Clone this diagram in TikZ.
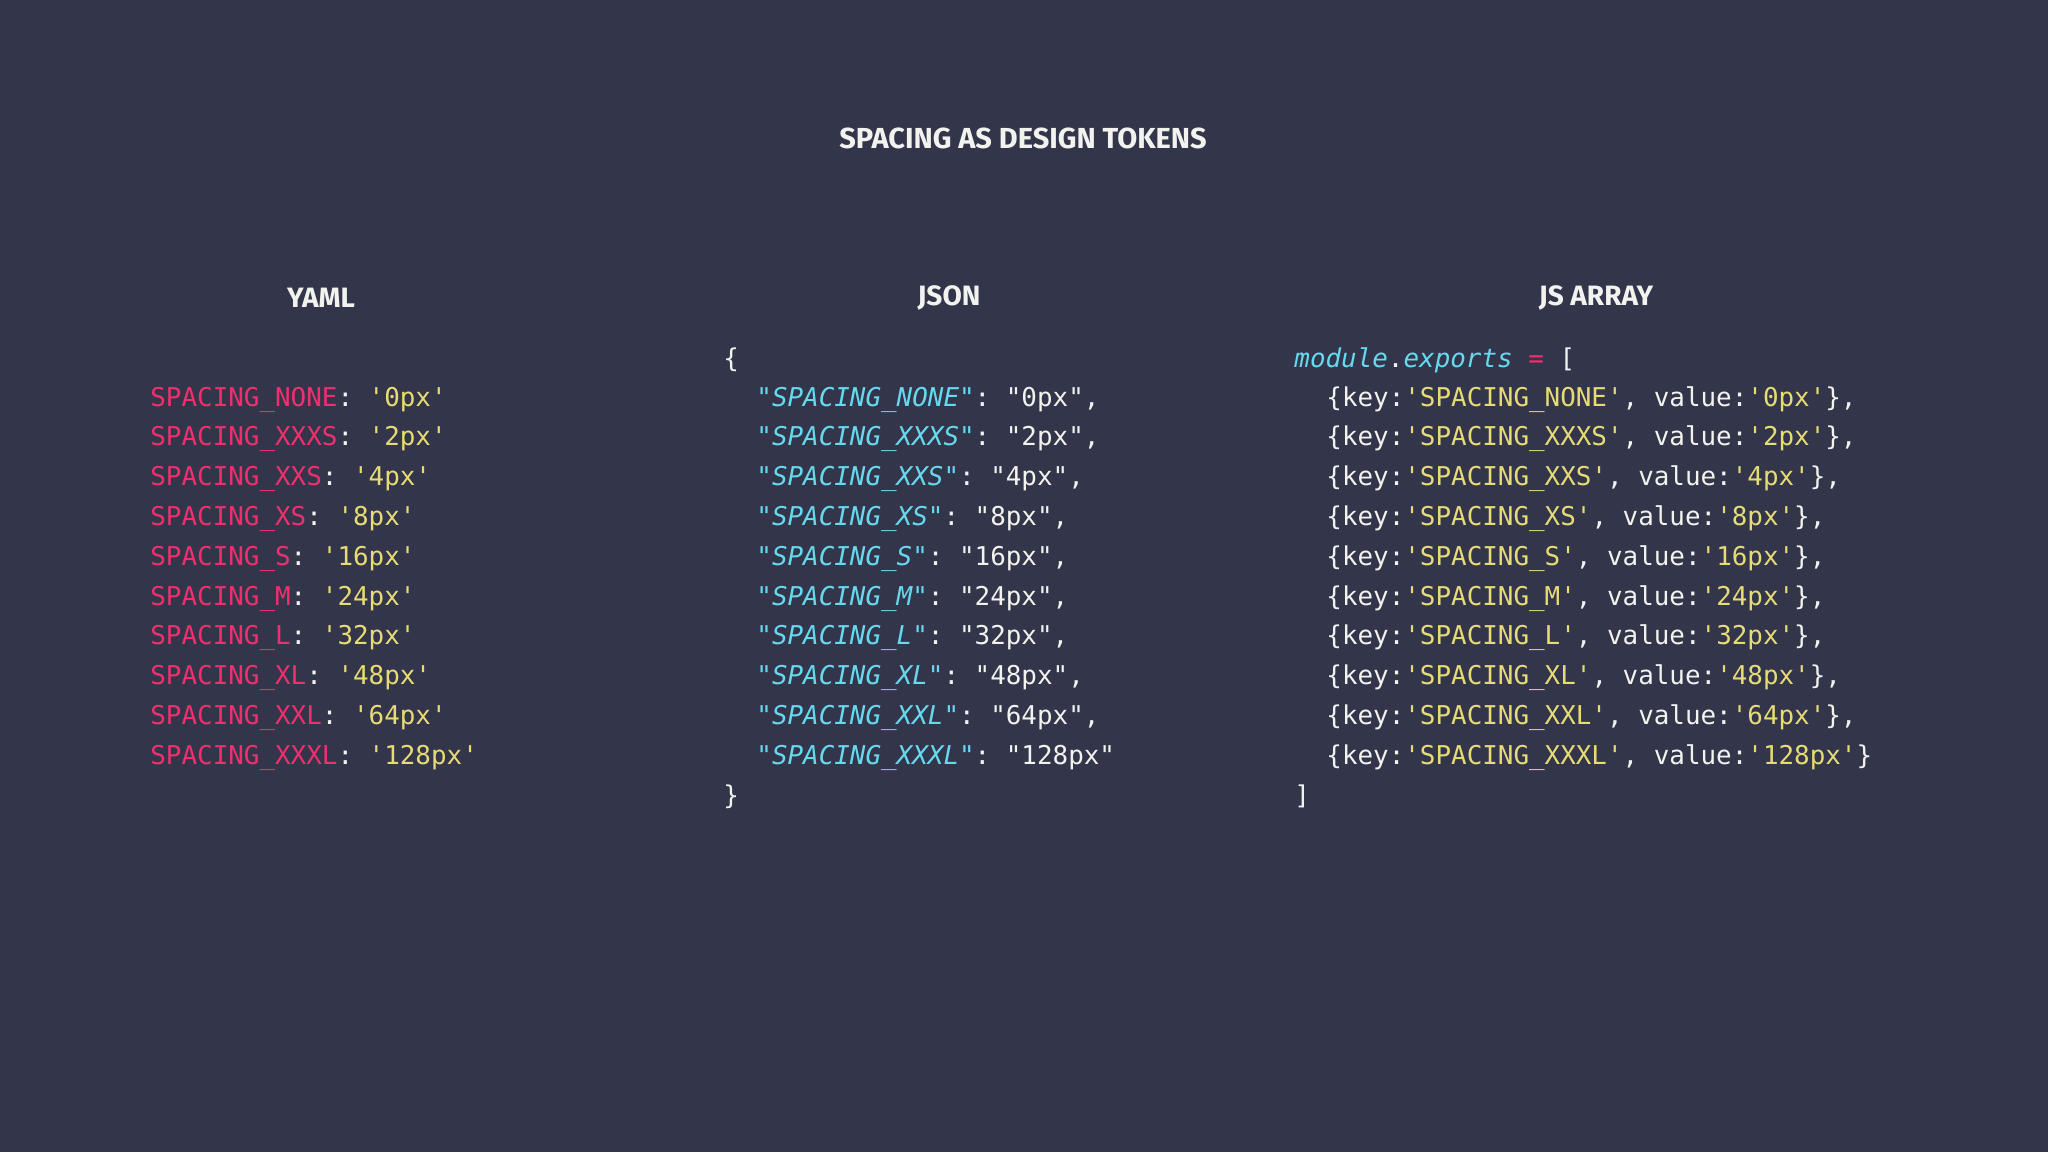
\documentclass[tikz,border=0pt]{standalone}
\usepackage{fontspec}
\setmainfont{Fira Sans}
\setmonofont{DejaVu Sans Mono}
\definecolor{bg}{HTML}{33354A}
\definecolor{pk}{HTML}{F0306E}
\definecolor{yl}{HTML}{E6DB74}
\definecolor{cy}{HTML}{66D9EF}
\definecolor{wt}{HTML}{F2F2EE}
\tikzset{
  code/.style={anchor=west,inner sep=0pt,text height=9pt,text depth=3pt,font=\ttfamily\fontsize{12.95}{14}\selectfont,text=wt},
  head/.style={inner sep=0pt,font=\bfseries\fontsize{14}{16}\selectfont,text=wt},
  ttl/.style={inner sep=0pt,font=\bfseries\fontsize{14.5}{17}\selectfont,text=wt}
}
\newcommand{\ck}[1]{\textcolor{cy}{\itshape #1}}
\begin{document}
\begin{tikzpicture}[x=0.5pt,y=-0.5pt]
\fill[bg] (0,0) rectangle (2048,1152);
\useasboundingbox (0,0) rectangle (2048,1152);
\node[ttl] (title) at (1023,138) {SPACING AS DESIGN TOKENS};
\node[head] (hyaml) at (321,298) {YAML};
\node[head] (hjson) at (949,298) {JSON};
\node[head] (hjs) at (1596,298) {JS ARRAY};
\node[code] (jopen) at (723,361) {\{};
\node[code] (jsopen) at (1294,361) {\ck{module}.\ck{exports}\textcolor{pk}{\ =\ }[};
\foreach \k/\v [count=\i] in {NONE/0px,XXXS/2px,XXS/4px,XS/8px,S/16px,M/24px,L/32px,XL/48px,XXL/64px,XXXL/128px}{
  \pgfmathsetmacro{\yy}{400+(\i-1)*39.8}
  \ifnum\i=10 \def\cm{}\def\jc{\}}\else\def\cm{,}\def\jc{\},}\fi
  \node[code] (y\i) at (150,\yy) {\textcolor{pk}{SPACING\_\k}: \textcolor{yl}{'\v'}};
  \node[code] (j\i) at (756,\yy) {\ck{"SPACING\_\k"}: "\v"\cm};
  \node[code] (s\i) at (1326,\yy) {\{key:\textcolor{yl}{'SPACING\_\k'}, value:\textcolor{yl}{'\v'}\jc};
}
\node[code] (jclose) at (723,798) {\}};
\node[code] (jsclose) at (1294,798) {]};
\end{tikzpicture}
\end{document}
